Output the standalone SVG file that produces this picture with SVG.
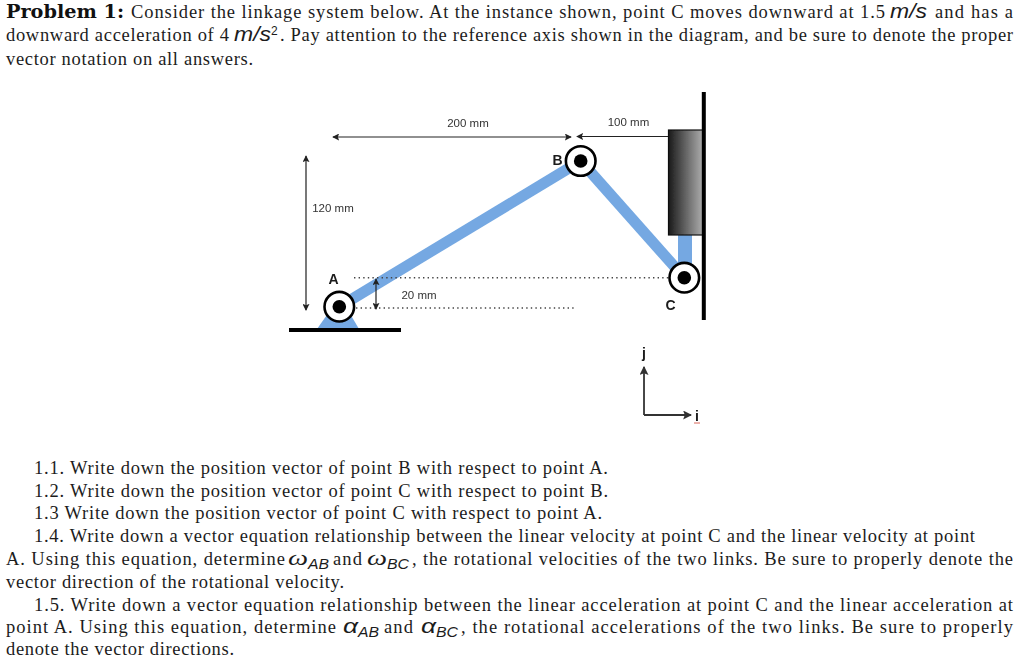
<svg xmlns="http://www.w3.org/2000/svg" width="1024" height="671" viewBox="0 0 1024 671">
<style>
.t{font-family:"Liberation Serif","Times New Roman",serif;font-size:18.5px;fill:#1c1c1c}
.b{font-family:"DejaVu Serif",serif;font-weight:bold;font-size:18.5px;fill:#111}
.m{font-family:"Liberation Sans",Arial,sans-serif;font-style:italic;font-size:20px;fill:#1c1c1c}
.w{font-family:"Liberation Serif",serif;font-style:italic;font-size:21px;fill:#1c1c1c}
.s{font-family:"Liberation Sans",Arial,sans-serif;font-style:italic;font-size:14px;fill:#1c1c1c}
.d{font-family:"Liberation Sans",Arial,sans-serif;font-size:11.5px;fill:#333}
.l{font-family:"Liberation Sans",Arial,sans-serif;font-size:14px;font-weight:bold;fill:#1a1a1a}
.link{stroke:#74a8e2;stroke-width:11;fill:none}
.dim{stroke:#222;stroke-width:1.2;fill:none;marker-start:url(#ah);marker-end:url(#ah)}
.dot{stroke:#444;stroke-width:1.4;stroke-dasharray:1.4 3.2;fill:none}
.pin{fill:#fff;stroke:#000;stroke-width:2.6}
.soft{filter:url(#soft)}
</style>
<defs>
<filter id="soft" x="-5%" y="-5%" width="110%" height="110%"><feGaussianBlur stdDeviation="0.4"/></filter>
<marker id="ah" viewBox="0 0 8 8" refX="7" refY="4" markerWidth="7" markerHeight="7" markerUnits="userSpaceOnUse" orient="auto-start-reverse"><path d="M0 0L8 4L0 8L1.5 4Z" fill="#222"/></marker>
<marker id="ah2" viewBox="0 0 8 8" refX="7" refY="4" markerWidth="9" markerHeight="9" markerUnits="userSpaceOnUse" orient="auto"><path d="M0 0L8 4L0 8L1.5 4Z" fill="#333"/></marker>
<linearGradient id="g" x1="0" x2="1" y1="0" y2="0"><stop offset="0" stop-color="#1a1a1a"/><stop offset="1" stop-color="#b0b0b0"/></linearGradient>
</defs>

<g id="problem-text">
<text class="b" x="6" y="18" textLength="118" lengthAdjust="spacingAndGlyphs">Problem 1:</text>
<text class="t" x="131" y="18" textLength="754">Consider the linkage system below. At the instance shown, point C moves downward at 1.5</text>
<text class="m" x="890" y="18" textLength="37" lengthAdjust="spacingAndGlyphs">m/s</text>
<text class="t" x="935" y="18" textLength="78">and has a</text>
<text class="t" x="6" y="41" textLength="223">downward acceleration of 4</text>
<text class="m" x="234" y="41" textLength="37" lengthAdjust="spacingAndGlyphs">m/s</text>
<text class="m" x="271" y="35" style="font-size:12px;font-style:normal">2</text>
<text class="t" x="280" y="41" textLength="733">. Pay attention to the reference axis shown in the diagram, and be sure to denote the proper</text>
<text class="t" x="6" y="65" textLength="247">vector notation on all answers.</text>
</g>

<g id="connectors" class="soft">
<path class="link" d="M339.3 306.7L580.7 161"/>
<path class="link" d="M580.7 161L684.3 277.7"/>
<path class="dot" d="M354 277.7H675"/>
<path class="dot" d="M356 308H576"/>
<path class="dim" d="M333 137H571"/>
<path class="dim" d="M577 136.5H691"/>
<path class="dim" d="M306 156V310"/>
<path class="dim" d="M376 279V309"/>
<path d="M644 415V367" stroke="#333" stroke-width="1.8" fill="none" marker-end="url(#ah2)"/>
<path d="M644 415H691" stroke="#333" stroke-width="1.8" fill="none" marker-end="url(#ah2)"/>
</g>

<g id="slider" class="soft">
<rect x="678" y="235" width="14" height="38" fill="#74a8e2"/>
<rect x="668.5" y="130" width="35" height="105" fill="url(#g)" stroke="#111" stroke-width="1.2"/>
</g>
<g id="wall" class="soft"><rect x="701.8" y="92" width="4" height="228" fill="#000"/></g>
<g id="ground" class="soft">
<path d="M317 329L329 312H349L359 329Z" fill="#74a8e2"/>
<rect x="289" y="328" width="112" height="4" fill="#000"/>
</g>
<g id="node-A" class="soft"><circle class="pin" cx="339.3" cy="306.7" r="14.8"/><circle cx="339.3" cy="306.7" r="6.8"/><text class="l" x="333.500" y="284" text-anchor="middle">A</text></g>
<g id="node-B" class="soft"><circle class="pin" cx="580.7" cy="161" r="14.8"/><circle cx="580.7" cy="161" r="6.8"/><text class="l" x="557.500" y="164.500" text-anchor="middle">B</text></g>
<g id="node-C" class="soft"><circle class="pin" cx="684.3" cy="277.7" r="14.8"/><circle cx="684.3" cy="277.7" r="6.8"/><text class="l" x="670.500" y="310" text-anchor="middle">C</text></g>

<g id="dimension-labels" class="soft">
<text class="d" x="468" y="127" text-anchor="middle">200 mm</text>
<text class="d" x="628.5" y="125.500" text-anchor="middle">100 mm</text>
<text class="d" x="333" y="212" text-anchor="middle">120 mm</text>
<text class="d" x="419" y="299" text-anchor="middle">20 mm</text>
</g>
<g id="axes" class="soft">
<text class="l" x="644" y="358" text-anchor="middle">j</text>
<text class="l" x="697" y="421" text-anchor="middle">i</text>
<path d="M694 423H700" stroke="#d04030" stroke-width="0.8" fill="none"/>
</g>

<g id="questions">
<text class="t" x="34" y="474" textLength="574">1.1. Write down the position vector of point B with respect to point A.</text>
<text class="t" x="34" y="497" textLength="574">1.2. Write down the position vector of point C with respect to point B.</text>
<text class="t" x="34" y="519" textLength="568">1.3 Write down the position vector of point C with respect to point A.</text>
<text class="t" x="34" y="542" textLength="941">1.4. Write down a vector equation relationship between the linear velocity at point C and the linear velocity at point</text>
<text class="t" x="6" y="565" textLength="279">A. Using this equation, determine</text>
<text class="w" x="288" y="565" textLength="20" lengthAdjust="spacingAndGlyphs">ω</text>
<text class="s" x="308" y="569" textLength="21" lengthAdjust="spacingAndGlyphs">AB</text>
<text class="t" x="333" y="565" textLength="29">and</text>
<text class="w" x="367" y="565" textLength="20" lengthAdjust="spacingAndGlyphs">ω</text>
<text class="s" x="387" y="569" textLength="22" lengthAdjust="spacingAndGlyphs">BC</text>
<text class="t" x="412" y="565" textLength="601">, the rotational velocities of the two links. Be sure to properly denote the</text>
<text class="t" x="6" y="588" textLength="338">vector direction of the rotational velocity.</text>
<text class="t" x="34" y="611" textLength="979">1.5. Write down a vector equation relationship between the linear acceleration at point C and the linear acceleration at</text>
<text class="t" x="6" y="633" textLength="330">point A. Using this equation, determine</text>
<text class="m" x="343" y="633" textLength="15" lengthAdjust="spacingAndGlyphs">α</text>
<text class="s" x="358" y="637" textLength="21" lengthAdjust="spacingAndGlyphs">AB</text>
<text class="t" x="384" y="633" textLength="29">and</text>
<text class="m" x="421" y="633" textLength="15" lengthAdjust="spacingAndGlyphs">α</text>
<text class="s" x="436" y="637" textLength="22" lengthAdjust="spacingAndGlyphs">BC</text>
<text class="t" x="461" y="633" textLength="552">, the rotational accelerations of the two links. Be sure to properly</text>
<text class="t" x="6" y="655" textLength="228">denote the vector directions.</text>
</g>
</svg>
